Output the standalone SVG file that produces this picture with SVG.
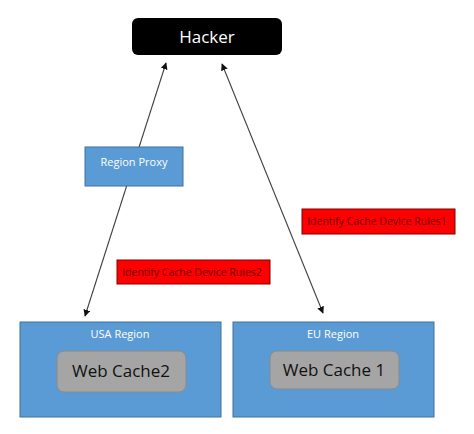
<svg xmlns="http://www.w3.org/2000/svg" width="474" height="434" viewBox="0 0 474 434">
<style>
.region{fill:#5B9BD5;stroke:#41719C;stroke-width:1}
.cache{fill:#A5A5A5;stroke:#8A8A8A;stroke-width:1}
.rule{fill:#FF0000;stroke:#7F0000;stroke-width:1}
.lbl{font-family:"Open Sans","Liberation Sans",sans-serif;fill:#FFFFFF;font-size:11px;text-anchor:middle}
.big{font-family:"Open Sans","Liberation Sans",sans-serif;fill:#111111;font-size:17px;text-anchor:middle}
.rtxt{font-family:"Open Sans","Liberation Sans",sans-serif;fill:#6B0000;font-size:10.5px;text-anchor:middle}
.conn{stroke:#404040;stroke-width:1.1;fill:none;marker-start:url(#ah);marker-end:url(#ah)}
</style>
<defs>
<marker id="ah" viewBox="0 0 10 10" refX="9" refY="5" markerWidth="7" markerHeight="7" orient="auto-start-reverse" markerUnits="userSpaceOnUse">
<path d="M0,0 L10,5 L0,10 z" fill="#111111"/>
</marker>
</defs>
<rect width="474" height="434" fill="#FFFFFF"/>
<g id="connectors">
<line class="conn" x1="166" y1="63" x2="85" y2="316"/>
<line class="conn" x1="222" y1="64" x2="323" y2="313"/>
</g>
<g id="hacker">
<rect x="132" y="18" width="150" height="37" rx="6" fill="#000000"/>
<text x="207" y="43" font-family="'Open Sans','Liberation Sans',sans-serif" font-size="17" fill="#FFFFFF" text-anchor="middle">Hacker</text>
</g>
<g id="region-proxy">
<rect class="region" x="85" y="147" width="98" height="39"/>
<text class="lbl" x="134" y="166">Region Proxy</text>
</g>
<g id="rules2">
<rect class="rule" x="117" y="260" width="153" height="24"/>
<text class="rtxt" x="192" y="276">Identify Cache Device Rules2</text>
</g>
<g id="rules1">
<rect class="rule" x="302" y="209" width="153" height="25"/>
<text class="rtxt" x="377" y="225">Identify Cache Device Rules1</text>
</g>
<g id="usa-region">
<rect class="region" x="20" y="322" width="201" height="95"/>
<text class="lbl" x="120" y="338">USA Region</text>
</g>
<g id="web-cache2">
<rect class="cache" x="57" y="351" width="129" height="41" rx="7"/>
<text class="big" x="121" y="377">Web Cache2</text>
</g>
<g id="eu-region">
<rect class="region" x="233" y="322" width="201" height="95"/>
<text class="lbl" x="333" y="338">EU Region</text>
</g>
<g id="web-cache1">
<rect class="cache" x="270" y="351" width="129" height="38" rx="7"/>
<text class="big" x="334" y="376">Web Cache 1</text>
</g>
</svg>
